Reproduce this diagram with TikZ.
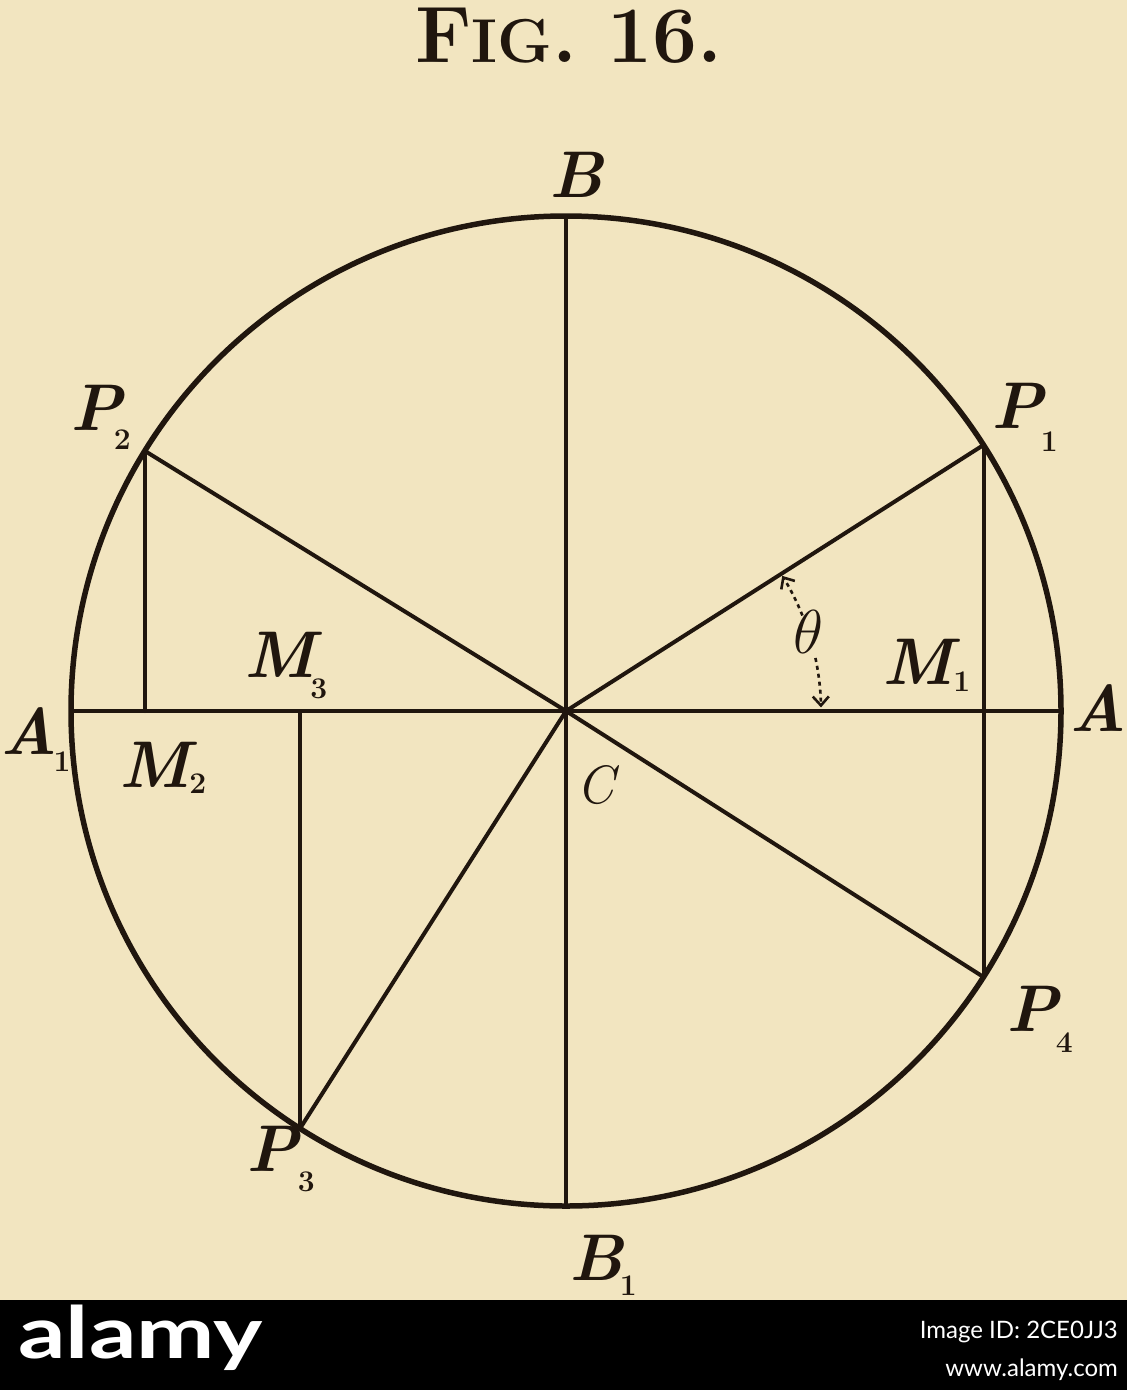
\RequirePackage{fix-cm}
\documentclass[tikz,border=0pt]{standalone}
\usepackage{fontspec}
\newfontfamily\wmfont{Lato}
\usetikzlibrary{arrows.meta}
\definecolor{paper}{RGB}{242,229,192}
\definecolor{ink}{RGB}{32,22,14}
% letter with a subscript: #1 letter, #2 kern, #3 raise, #4 subscript
\newcommand\lettersub[4]{#1\smash{\rlap{\kern#2\raisebox{#3}{\fontsize{30}{30}\selectfont\upshape\bfseries #4}}}}
\tikzset{
  lbl/.style={text=ink, inner sep=0pt, font=\fontsize{66}{66}\selectfont\bfseries\itshape},
  geo/.style={draw=ink, line width=4pt, line cap=round},
  rim/.style={draw=ink, line width=5.5pt},
  angarrow/.style={draw=ink, line width=2.6pt, dash pattern=on 4pt off 4pt,
    -{Straight Barb[length=9pt,width=16pt,line width=2.6pt]}},
  wmtext/.style={text=white, inner sep=0pt}
}
\begin{document}
\begin{tikzpicture}[x=1pt,y=-1pt]
\useasboundingbox (0,0) rectangle (1127,1390);
\fill[paper] (0,0) rectangle (1127,1300);
\fill[black] (0,1300) rectangle (1127,1390);

% title
\node[text=ink, inner sep=0pt, anchor=base, font=\bfseries] (title) at (569,62)
  {\fontsize{80}{80}\selectfont F\fontsize{62}{62}\selectfont IG\fontsize{80}{80}\selectfont. 16.};

% points
\coordinate (C) at (566,711);
\coordinate (A) at (1061,711);
\coordinate (A1) at (71,711);
\coordinate (B) at (566,216);
\coordinate (B1) at (566,1206);
\coordinate (P1) at (983.5,445);
\coordinate (P4) at (983.5,977);
\coordinate (P2) at (145,451);
\coordinate (P3) at (300,1128.5);
\coordinate (M1) at (983.5,711);
\coordinate (M2) at (145,711);
\coordinate (M3) at (300,711);

% circle and lines
\draw[rim] (C) circle[radius=495pt];
\draw[geo] (A1) -- (A);
\draw[geo] (B) -- (B1);
\draw[geo] (C) -- (P1);
\draw[geo] (C) -- (P2);
\draw[geo] (C) -- (P3);
\draw[geo] (C) -- (P4);
\draw[geo] (P1) -- (M1) -- (P4);
\draw[geo] (P2) -- (M2);
\draw[geo] (P3) -- (M3);

% angle theta
\draw[angarrow] (C) ++(22:255pt) arc[start angle=22, end angle=32, radius=255pt];
\draw[angarrow] (C) ++(12:255pt) arc[start angle=12, end angle=0.8, radius=255pt];
\node[text=ink, inner sep=0pt, font=\fontsize{62}{62}\selectfont] (lth) at (808,632) {$\theta$};

% labels
\node[lbl] (lB) at (576,175) {B};
\node[lbl] (lB1) at (596,1258) {\lettersub{B}{-3pt}{-15pt}{1}};
\node[lbl] (lA) at (1098,708) {A};
\node[lbl] (lA1) at (29,731) {\lettersub{A}{-4pt}{-17pt}{1}};
\node[lbl] (lP1) at (1017,406) {\lettersub{P}{-2pt}{-23pt}{1}};
\node[lbl] (lP2) at (96,408) {\lettersub{P}{-8pt}{-19pt}{2}};
\node[lbl] (lP3) at (272,1149) {\lettersub{P}{0pt}{-20pt}{3}};
\node[lbl] (lP4) at (1032,1009) {\lettersub{P}{-2pt}{-21pt}{4}};
\node[lbl] (lM1) at (918,662) {\lettersub{M}{0pt}{-7pt}{1}};
\node[lbl] (lM2) at (155,765) {\lettersub{M}{-1pt}{-6pt}{2}};
\node[lbl] (lM3) at (280,655) {\lettersub{M}{-5pt}{-21pt}{3}};
\node[text=ink, inner sep=0pt, font=\fontsize{54}{54}\selectfont\itshape] (lC) at (595,785) {C};

% watermark bar
\node[wmtext, anchor=base west, font=\wmfont\bfseries\fontsize{72}{72}\selectfont] (wm) at (18,1358) {\scalebox{1.3}[1]{alamy}};
\node[wmtext, anchor=base east, font=\wmfont\fontsize{24}{24}\selectfont] (wmid) at (1118,1338) {Image ID: 2CE0JJ3};
\node[wmtext, anchor=base east, font=\wmfont\fontsize{24}{24}\selectfont] (wmurl) at (1118,1376) {www.alamy.com};
\end{tikzpicture}
\end{document}
